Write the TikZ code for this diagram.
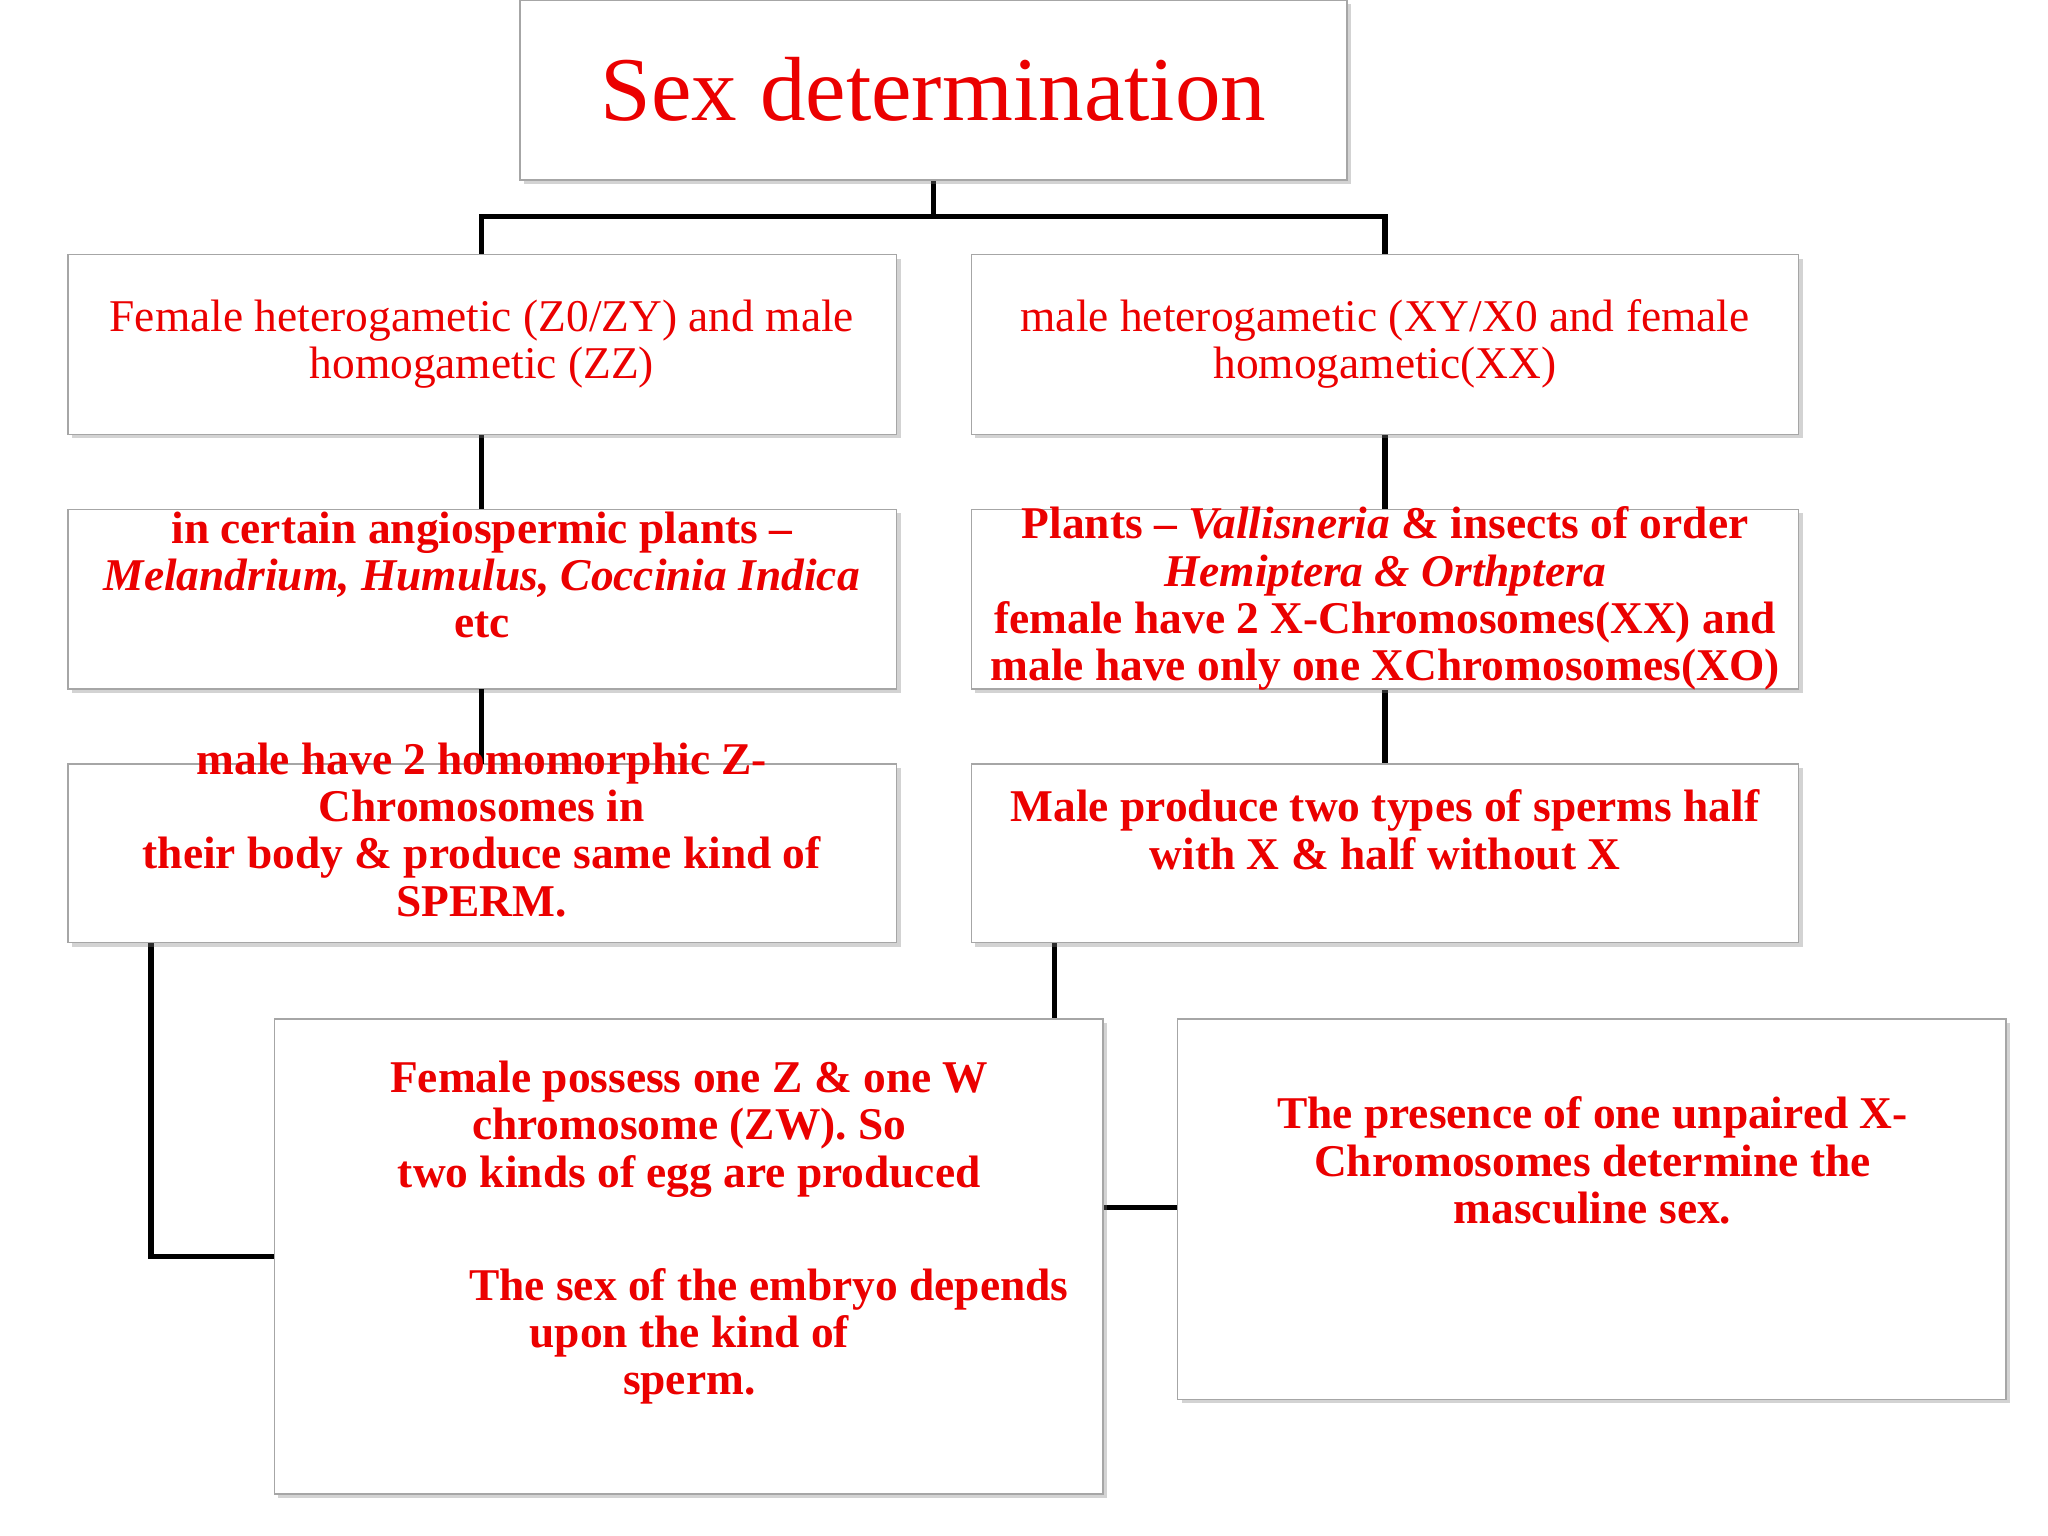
\documentclass[tikz,border=0pt]{standalone}
\usepackage{fontspec}
\setmainfont{Liberation Serif}
\usetikzlibrary{shadows}
\definecolor{rd}{RGB}{235,0,0}
\begin{document}
\begin{tikzpicture}[x=0.5pt,y=-0.5pt,
  bx/.style={draw=gray!70,line width=0.6pt,fill=white,drop shadow={shadow xshift=1.5pt,shadow yshift=-1.5pt,opacity=0.35}},
  ln/.style={line width=2pt,black},
  tx/.style={text=rd,align=center,font=\fontsize{17.3}{18}\selectfont,inner sep=0pt},
  bt/.style={tx,font=\fontsize{17.3}{18}\selectfont\bfseries}]
\useasboundingbox (0,0) rectangle (1560,1170);
% connectors
\coordinate (t1) at (711,165); \coordinate (tl) at (367,165); \coordinate (tr) at (1055,165);
\draw[ln] (711,137) -- (t1);
\draw[ln] (367,194) -- (tl) -- (tr) -- (1055,194);
\draw[ln] (367,331) -- (367,582);
\draw[ln] (1055,331) -- (1055,582);
\coordinate (c1) at (115,957);
\draw[ln] (115,718) -- (c1) -- (209,957);
\draw[ln] (803,718) -- (803,776);
\draw[ln] (840,920) -- (897,920);
% boxes
\path[bx] (396,0) rectangle (1026,137);
\path[bx] (52,194) rectangle (683,331);
\path[bx] (740,194) rectangle (1370,331);
\path[bx] (52,388) rectangle (683,525);
\path[bx] (740,388) rectangle (1370,525);
\path[bx] (52,582) rectangle (683,718);
\path[bx] (740,582) rectangle (1370,718);
\path[bx] (209,776) rectangle (840,1138);
\path[bx] (897,776) rectangle (1528,1066);
\draw[ln] (367,525) -- (367,582);
% texts
\node[tx,font=\fontsize{34.7}{40}\selectfont] (title) at (711,68) {Sex determination};
\node[tx] (a1) at (367,262) {Female heterogametic (Z0/ZY) and male\\homogametic (ZZ)};
\node[tx] (b1) at (1055,262) {male heterogametic (XY/X0 and female\\homogametic(XX)};
\node[bt] (a2) at (367,438) {in certain angiospermic plants --\\\textit{Melandrium, Humulus, Coccinia Indica}\\etc};
\node[bt] (b2) at (1055,456) {Plants -- \textit{Vallisneria} \& insects of order\\\textit{Hemiptera \& Orthptera}\\female have 2 X-Chromosomes(XX) and\\male have only one XChromosomes(XO)};
\node[bt] (a3) at (367,632) {male have 2 homomorphic Z-\\Chromosomes in\\their body \& produce same kind of\\SPERM.};
\node[bt] (b3) at (1055,632) {Male produce two types of sperms half\\with X \& half without X};
\node[bt] (c2a) at (525,860) {Female possess one Z \& one W\\chromosome (ZW). So\\two kinds of egg are produced};
\node[bt,anchor=west] (c2b) at (357,982) {The sex of the embryo depends};
\node[bt] (c2c) at (525,1036) {upon the kind of\\sperm.};
\node[bt] (d2) at (1213,884) {The presence of one unpaired X-\\Chromosomes determine the\\masculine sex.};
\end{tikzpicture}
\end{document}
